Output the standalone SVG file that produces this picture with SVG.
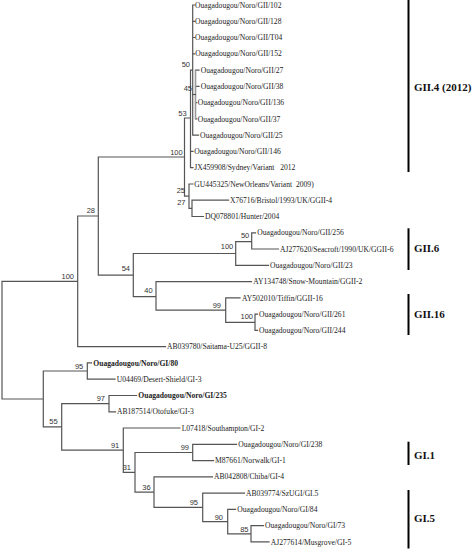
<svg xmlns="http://www.w3.org/2000/svg" width="474" height="549" viewBox="0 0 474 549">
<style>
.br{fill:none;stroke:#555;stroke-width:1.2;stroke-linecap:square}
.lf{font-family:"Liberation Serif",serif;font-size:7.6px;fill:#222;white-space:pre}
.b{font-weight:bold}
.bs{font-family:"Liberation Sans",sans-serif;font-size:7.5px;fill:#333;text-anchor:end}
.bar{stroke:#000;stroke-width:2}
.cl{font-family:"Liberation Serif",serif;font-size:11px;font-weight:bold;fill:#111}
</style>
<rect width="474" height="549" fill="#fff"/>
<g id="connectors">
<path class="br" d="M2,281.4V399M2,281.4H77.7M2,399H43.3
M77.7,216V346.7M77.7,216H98.3M77.7,346.7H165.5
M98.3,157V275.1M98.3,157H184.5M98.3,275.1H133.3
M184.5,118V196.2M184.5,118H190.5M184.5,196.2H189
M190.5,70.1V167.7M190.5,70.1H192.7M190.5,151.4H193M190.5,167.7H193
M192.7,5V135.2M192.7,5H194.5M192.7,21.3H194.5M192.7,37.5H194.5M192.7,53.8H194.5M192.7,135.2H198.5
M195.5,70.1H199M195.5,86.4H199M195.5,102.6H196.8M195.5,118.9H196.8
M189,184V208.3M189,184H193M189,208.3H192
M192,200.2V216.5M192,200.2H228.5M192,216.5H203.5
M133.3,253.5V296.7M133.3,253.5H235.7M133.3,296.7H156
M235.7,241.6V265.3M235.7,241.6H251.7M235.7,265.3H268.5
M251.7,232.8V249M251.7,232.8H255.5M251.7,249H278.5
M156,281.6V310.1M156,281.6H251.5M156,310.1H225.7
M225.7,297.9V322.3M225.7,297.9H240M225.7,322.3H255
M255,314.1V330.4M255,314.1H257.5M255,330.4H257.5
M43.3,371V426.9M43.3,371H87.3M43.3,426.9H61.7
M87.3,362.9V379.2M87.3,362.9H91.5M87.3,379.2H115
M61.7,403.7V450.1M61.7,403.7H109M61.7,450.1H123.3
M109,395.5V411.8M109,395.5H136.5M109,411.8H115.5
M123.3,428V472.3M123.3,428H180M123.3,472.3H135
M135,452.5V492.1M135,452.5H192.7M135,492.1H154
M192.7,444.3V460.6M192.7,444.3H236.5M192.7,460.6H213.5
M154,476.8V507.3M154,476.8H212.5M154,507.3H202.7
M202.7,493.1V521.6M202.7,493.1H244.5M202.7,521.6H227.7
M227.7,509.4V533.8M227.7,509.4H235.5M227.7,533.8H251
M251,525.6V541.9M251,525.6H263.5M251,541.9H269"/>
<path d="M195.5,70.1V118.9" fill="none" stroke="#999" stroke-width="1.6"/>
<path d="M192.7,94.5H195.5" class="br"/>
</g>
<g id="bootstrap">
<text class="bs" x="74" y="278.5">100</text>
<text class="bs" x="95" y="212.8">28</text>
<text class="bs" x="182.7" y="154.5">100</text>
<text class="bs" x="186.7" y="115.8">53</text>
<text class="bs" x="190" y="66.8">50</text>
<text class="bs" x="192" y="90.8">45</text>
<text class="bs" x="185" y="192.8">25</text>
<text class="bs" x="185.5" y="205.3">27</text>
<text class="bs" x="130" y="270.8">54</text>
<text class="bs" x="233.3" y="249.3">100</text>
<text class="bs" x="249.3" y="237.8">50</text>
<text class="bs" x="152.7" y="292.8">40</text>
<text class="bs" x="221" y="307.8">99</text>
<text class="bs" x="253" y="319.3">100</text>
<text class="bs" x="83.3" y="368.8">95</text>
<text class="bs" x="57.7" y="424.3">55</text>
<text class="bs" x="105" y="401.3">97</text>
<text class="bs" x="119.3" y="447.8">91</text>
<text class="bs" x="131" y="470.3">31</text>
<text class="bs" x="189" y="450.3">99</text>
<text class="bs" x="150.7" y="490.3">36</text>
<text class="bs" x="198" y="505.3">95</text>
<text class="bs" x="223" y="520.3">90</text>
<text class="bs" x="248.5" y="532">85</text>
</g>
<g id="n0"><text class="lf" x="195" y="7.6">Ouagadougou/Noro/GII/102</text></g>
<g id="n1"><text class="lf" x="195" y="23.9">Ouagadougou/Noro/GII/128</text></g>
<g id="n2"><text class="lf" x="195" y="40.1">Ouagadougou/Noro/GII/T04</text></g>
<g id="n3"><text class="lf" x="195.3" y="56.4">Ouagadougou/Noro/GII/152</text></g>
<g id="n4"><text class="lf" x="200.7" y="72.7">Ouagadougou/Noro/GII/27</text></g>
<g id="n5"><text class="lf" x="200.7" y="89">Ouagadougou/Noro/GII/38</text></g>
<g id="n6"><text class="lf" x="197.7" y="105.2">Ouagadougou/Noro/GII/136</text></g>
<g id="n7"><text class="lf" x="197.7" y="121.5">Ouagadougou/Noro/GII/37</text></g>
<g id="n8"><text class="lf" x="200" y="137.8">Ouagadougou/Noro/GII/25</text></g>
<g id="n9"><text class="lf" x="194.3" y="154">Ouagadougou/Noro/GII/146</text></g>
<g id="n10"><text class="lf" x="194.3" y="170.3">JX459908/Sydney/Variant   2012</text></g>
<g id="n11"><text class="lf" x="194.3" y="186.6">GU445325/NewOrleans/Variant  2009)</text></g>
<g id="n12"><text class="lf" x="230" y="202.8">X76716/Bristol/1993/UK/GGII-4</text></g>
<g id="n13"><text class="lf" x="205" y="219.1">DQ078801/Hunter/2004</text></g>
<g id="n14"><text class="lf" x="257.3" y="235.4">Ouagadougou/Noro/GII/256</text></g>
<g id="n15"><text class="lf" x="280" y="251.6">AJ277620/Seacroft/1990/UK/GGII-6</text></g>
<g id="n16"><text class="lf" x="270" y="267.9">Ouagadougou/Noro/GII/23</text></g>
<g id="n17"><text class="lf" x="253.3" y="284.2">AY134748/Snow-Mountain/GGII-2</text></g>
<g id="n18"><text class="lf" x="242" y="300.5">AY502010/Tiffin/GGII-16</text></g>
<g id="n19"><text class="lf" x="259" y="316.7">Ouagadougou/Noro/GII/261</text></g>
<g id="n20"><text class="lf" x="259" y="333">Ouagadougou/Noro/GII/244</text></g>
<g id="n21"><text class="lf" x="167" y="349.3">AB039780/Saitama-U25/GGII-8</text></g>
<g id="n22"><text class="lf b" x="93.3" y="365.5">Ouagadougou/Noro/GI/80</text></g>
<g id="n23"><text class="lf" x="116.7" y="381.8">U04469/Desert-Shield/GI-3</text></g>
<g id="n24"><text class="lf b" x="138.3" y="398.1">Ouagadougou/Noro/GI/235</text></g>
<g id="n25"><text class="lf" x="117" y="414.4">AB187514/Otofuke/GI-3</text></g>
<g id="n26"><text class="lf" x="181.7" y="430.6">L07418/Southampton/GI-2</text></g>
<g id="n27"><text class="lf" x="238.3" y="446.9">Ouagadougou/Noro/GI/238</text></g>
<g id="n28"><text class="lf" x="215" y="463.2">M87661/Norwalk/GI-1</text></g>
<g id="n29"><text class="lf" x="214" y="479.4">AB042808/Chiba/GI-4</text></g>
<g id="n30"><text class="lf" x="246" y="495.7">AB039774/SzUGI/GI.5</text></g>
<g id="n31"><text class="lf" x="237.3" y="512">Ouagadougou/Noro/GI/84</text></g>
<g id="n32"><text class="lf" x="265" y="528.2">Ouagadougou/Noro/GI/73</text></g>
<g id="n33"><text class="lf" x="270.7" y="544.5">AJ277614/Musgrove/GI-5</text></g>
<g id="clade-GII4"><line class="bar" x1="408.5" y1="0" x2="408.5" y2="172"/><text class="cl" x="414" y="90.5">GII.4 (2012)</text></g>
<g id="clade-GII6"><line class="bar" x1="408.5" y1="228.3" x2="408.5" y2="270"/><text class="cl" x="414" y="252">GII.6</text></g>
<g id="clade-GII16"><line class="bar" x1="408.5" y1="294" x2="408.5" y2="335"/><text class="cl" x="414" y="318">GII.16</text></g>
<g id="clade-GI1"><line class="bar" x1="408.5" y1="441.7" x2="408.5" y2="465"/><text class="cl" x="414" y="458.8">GI.1</text></g>
<g id="clade-GI5"><line class="bar" x1="408.5" y1="490" x2="408.5" y2="548.5"/><text class="cl" x="414" y="522">GI.5</text></g>
</svg>
